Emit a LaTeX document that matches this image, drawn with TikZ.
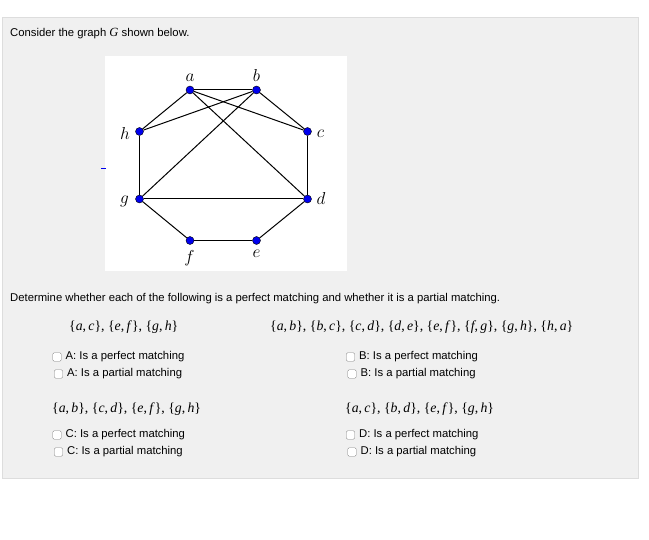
\documentclass[tikz,border=0pt]{standalone}
\usepackage{fontspec}
\setmainfont{Liberation Sans}
\newfontfamily\tms{Liberation Serif}
\usepackage{amsmath}
\usetikzlibrary{positioning}
\definecolor{panel}{RGB}{240,240,240}
\definecolor{rim}{RGB}{221,221,221}
\definecolor{vblue}{RGB}{0,0,238}
\pgfdeclarelayer{bg}
\pgfsetlayers{bg,main}
\newcommand{\pr}[2]{\{\textit{#1},\,\textit{#2}\}}

\begin{document}
\begin{tikzpicture}[x=1pt,y=-1pt,
    vert/.style={circle,draw=black,fill=vblue,inner sep=0pt,minimum size=8pt},
    lbl/.style={anchor=base,inner sep=0pt,font=\fontsize{18}{18}\selectfont},
    txt/.style={anchor=west,inner sep=0pt,font=\fontsize{11.3}{13}\selectfont},
    mset/.style={anchor=west,inner sep=0pt,font=\fontsize{13.8}{15}\selectfont\tms},
    chk/.style={draw=black!50,fill=white,rounded corners=1.3pt,
                minimum size=8.5pt,inner sep=0pt}]
    \useasboundingbox (0,0) rectangle (649,540);

    \node[txt] (intro) at (10,33.5) {Consider the graph {\fontsize{12.5}{13}\tms\itshape G} shown below.};

    % vertices
    \node[vert] (a) at (190,90) {};
    \node[vert] (b) at (256.5,90) {};
    \node[vert] (c) at (307.5,131.5) {};
    \node[vert] (d) at (307.5,199) {};
    \node[vert] (e) at (256.5,240.5) {};
    \node[vert] (f) at (190,240.5) {};
    \node[vert] (g) at (139.5,199) {};
    \node[vert] (h) at (139.5,131.5) {};
    \node[lbl] (la) at (190,82) {$a$};
    \node[lbl] (lb) at (256.5,82) {$b$};
    \node[lbl] (lc) at (320.5,137.5) {$c$};
    \node[lbl] (ld) at (321,205) {$d$};
    \node[lbl] (le) at (256.5,258) {$e$};
    \node[lbl] (lf) at (189.5,263) {$f$};
    \node[lbl] (lg) at (124.5,203.5) {$g$};
    \node[lbl] (lh) at (125,139.5) {$h$};
    \begin{pgfonlayer}{bg}
      % panel and graph area
      \draw[rim,fill=panel] (2,17) rectangle (638,478);
      \fill[white] (105,56) rectangle (347,271);
      \draw[vblue,thick] (101,168) -- (106,168);
      \foreach \p/\q in {a/b,a/h,a/c,a/d,b/h,b/c,b/g,h/g,c/d,g/d,g/f,f/e,e/d}
        \draw[line width=1pt] (\p)--(\q);
    \end{pgfonlayer}

    \node[txt] (ask) at (10,298.5) {Determine whether each of the following is a perfect matching and whether it is a partial matching.};

    % matchings
    \node[mset] (sA) at (69,327) {\pr ac, \pr ef, \pr gh};
    \node[mset] (sB) at (270,327) {\pr ab, \pr bc, \pr cd, \pr de, \pr ef, \pr fg, \pr gh, \pr ha};
    \node[mset] (sC) at (52,409) {\pr ab, \pr cd, \pr ef, \pr gh};
    \node[mset] (sD) at (345,409) {\pr ac, \pr bd, \pr ef, \pr gh};

    % check boxes
    \node[chk] (bA1) at (57,357) {};
    \node[txt,right=4pt of bA1] (tA1) {A: Is a perfect matching};
    \node[chk] (bA2) at (58.5,374) {};
    \node[txt,right=4pt of bA2] (tA2) {A: Is a partial matching};
    \node[chk] (bB1) at (350.5,357) {};
    \node[txt,right=4pt of bB1] (tB1) {B: Is a perfect matching};
    \node[chk] (bB2) at (352,374) {};
    \node[txt,right=4pt of bB2] (tB2) {B: Is a partial matching};
    \node[chk] (bC1) at (57,435) {};
    \node[txt,right=4pt of bC1] (tC1) {C: Is a perfect matching};
    \node[chk] (bC2) at (58.5,452) {};
    \node[txt,right=4pt of bC2] (tC2) {C: Is a partial matching};
    \node[chk] (bD1) at (350.5,435) {};
    \node[txt,right=4pt of bD1] (tD1) {D: Is a perfect matching};
    \node[chk] (bD2) at (352,452) {};
    \node[txt,right=4pt of bD2] (tD2) {D: Is a partial matching};
\end{tikzpicture}
\end{document}
